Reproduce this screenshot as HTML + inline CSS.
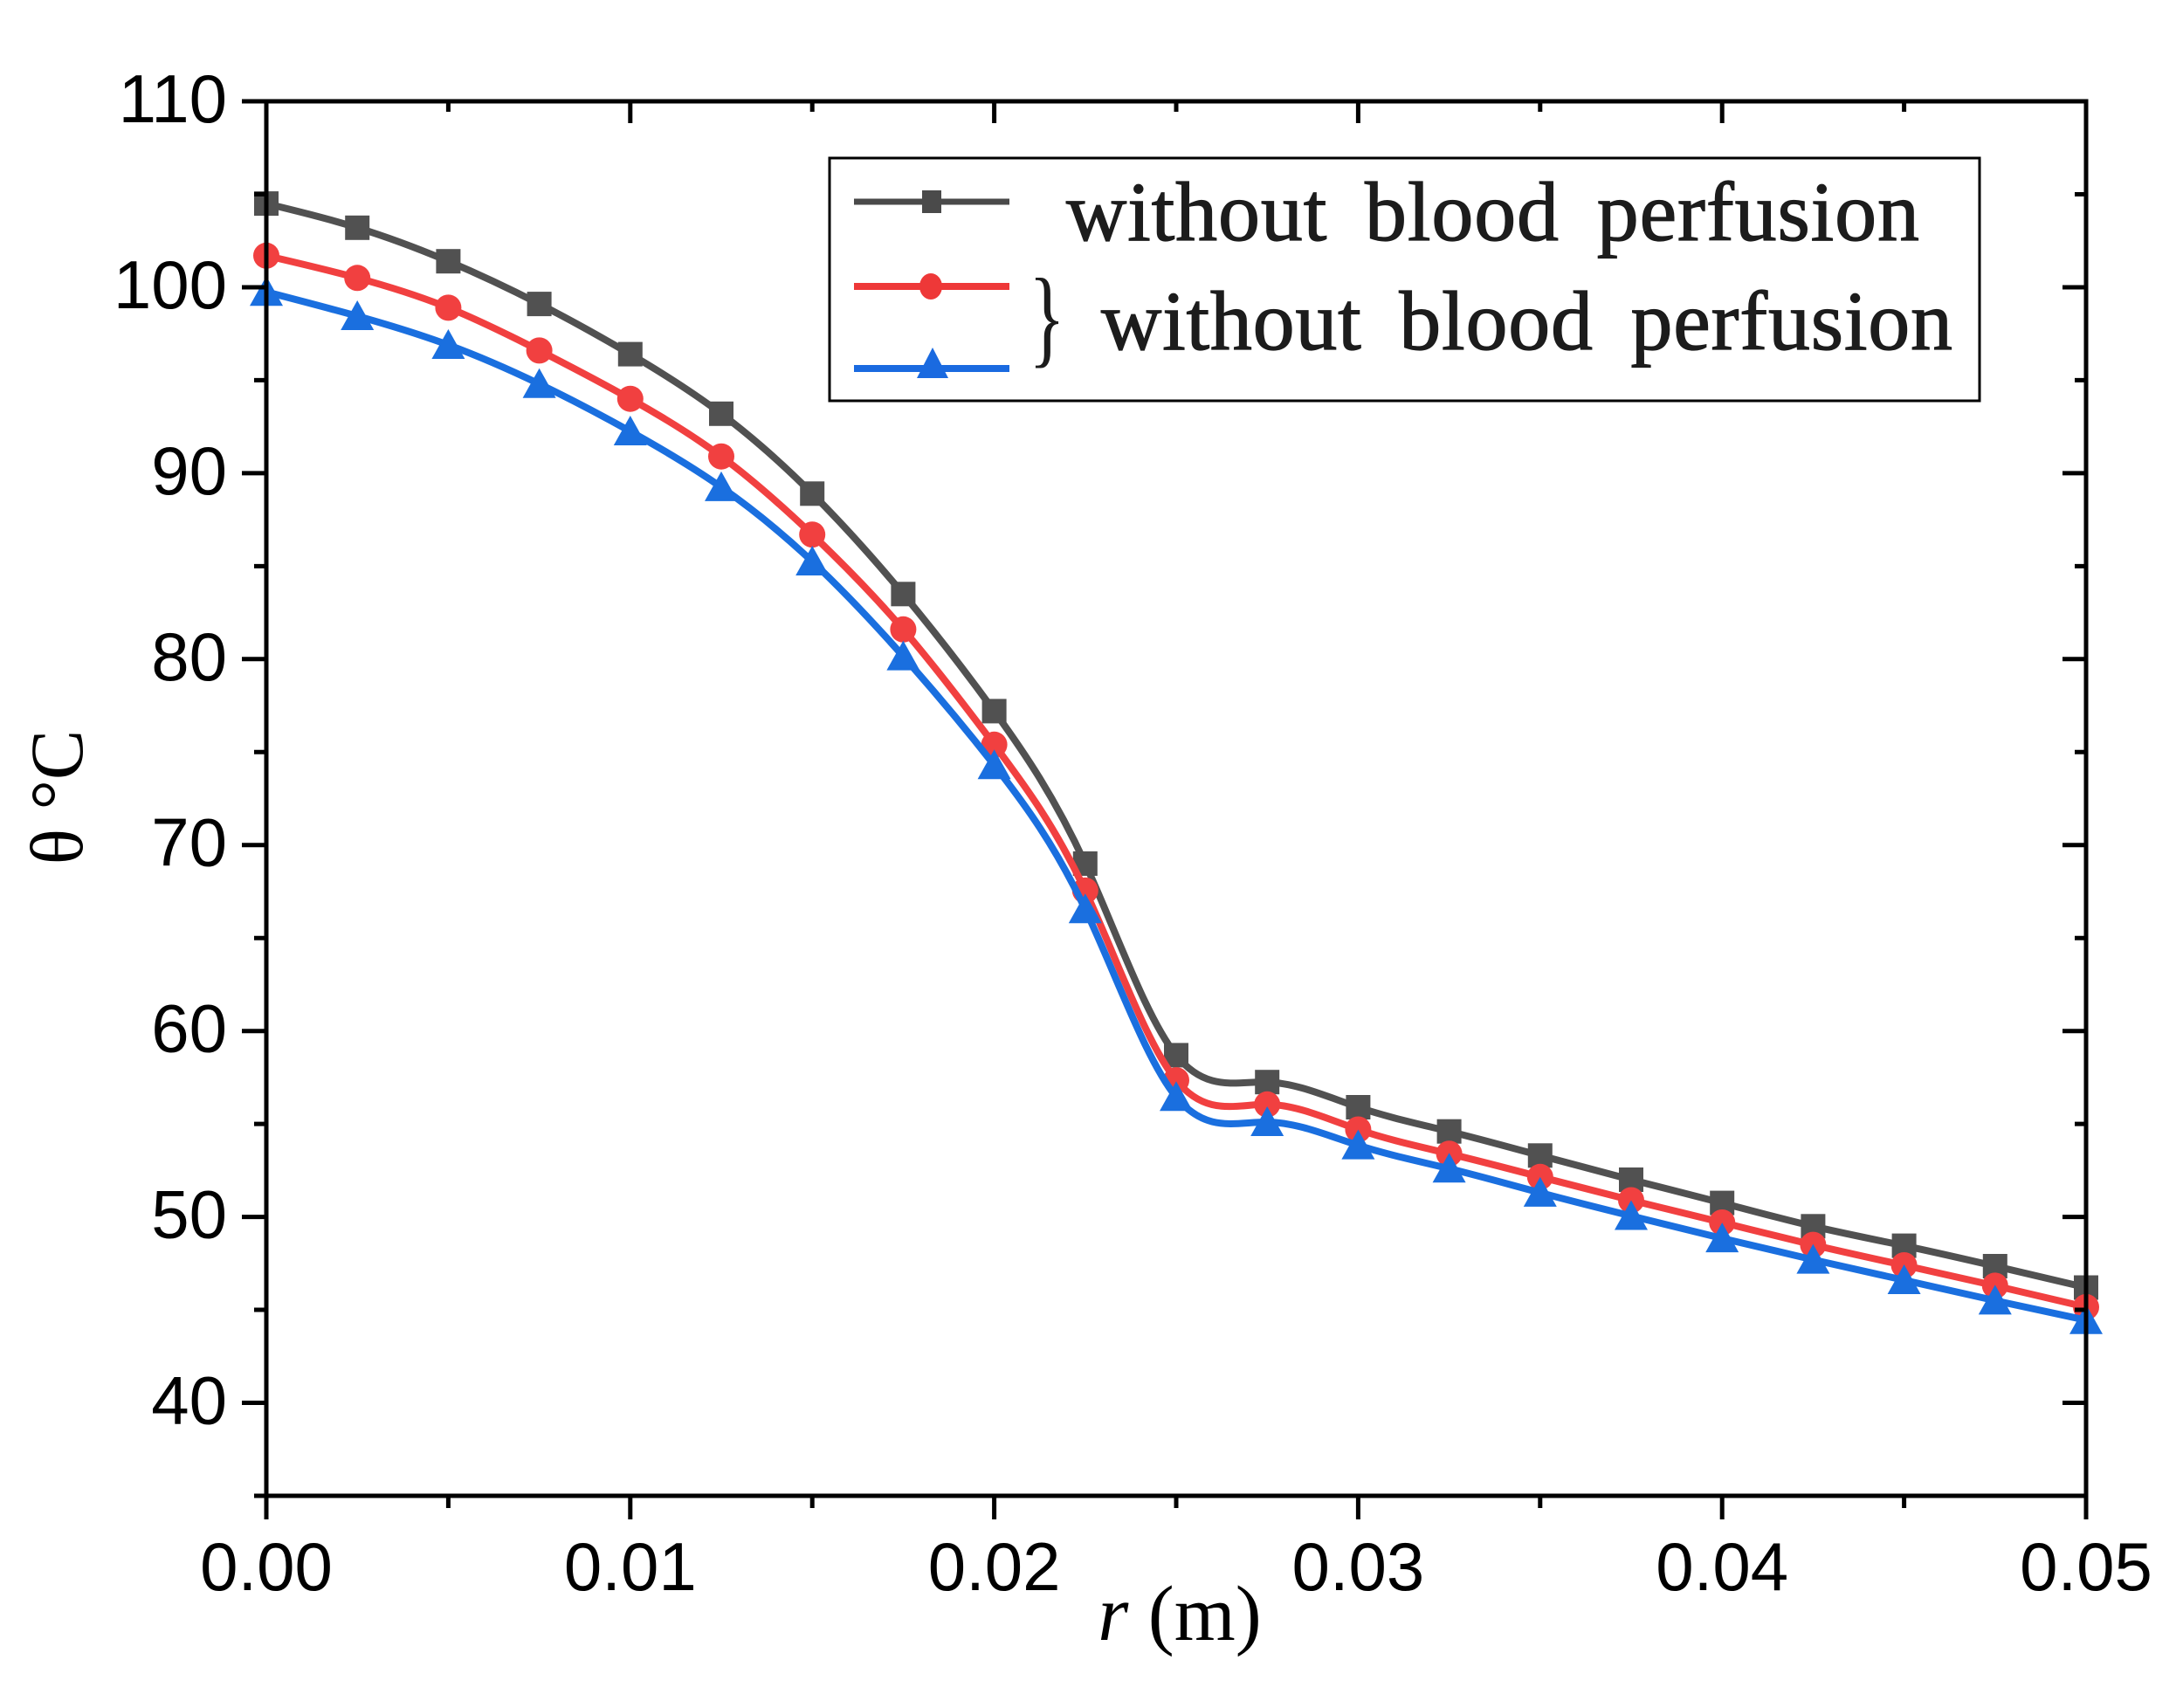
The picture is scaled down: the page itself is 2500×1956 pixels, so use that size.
<!DOCTYPE html>
<html>
<head>
<meta charset="utf-8">
<style>
html,body{margin:0;padding:0;background:#fff}
svg{display:block}
</style>
</head>
<body>
<svg id="chart" width="2500" height="1956" viewBox="0 0 2500 1956" xmlns="http://www.w3.org/2000/svg">
<rect x="0" y="0" width="2500" height="1956" fill="#fff"/>
<g id="series"></g>
<rect x="305" y="116" width="2084" height="1597" fill="none" stroke="#000" stroke-width="5"/>
<g stroke="#000" stroke-width="5" fill="none">
<path d="M277 1606.5h28M277 1393.6h28M277 1180.7h28M277 967.7h28M277 754.8h28M277 541.9h28M277 329h28M277 116h28"/>
<path d="M291 1713h14M291 1500h14M291 1287.1h14M291 1074.2h14M291 861.3h14M291 648.4h14M291 435.4h14M291 222.5h14"/>
<path d="M2362 1606.5h27M2362 1393.6h27M2362 1180.7h27M2362 967.7h27M2362 754.8h27M2362 541.9h27M2362 329h27"/>
<path d="M2376 1500h13M2376 1287.1h13M2376 1074.2h13M2376 861.3h13M2376 648.4h13M2376 435.4h13M2376 222.5h13"/>
<path d="M305 1713v27M721.8 1713v27M1138.6 1713v27M1555.4 1713v27M1972.2 1713v27M2389 1713v27"/>
<path d="M513.4 1713v14M930.2 1713v14M1347 1713v14M1763.8 1713v14M2180.6 1713v14"/>
<path d="M721.8 116v25M1138.6 116v25M1555.4 116v25M1972.2 116v25"/>
<path d="M513.4 116v12M930.2 116v12M1347 116v12M1763.8 116v12M2180.6 116v12"/>
</g>
<g font-family="'Liberation Sans', Arial, sans-serif" font-size="78" fill="#000" text-anchor="end">
<text x="260" y="1630.5">40</text>
<text x="260" y="1417.6">50</text>
<text x="260" y="1204.7">60</text>
<text x="260" y="991.7">70</text>
<text x="260" y="778.8">80</text>
<text x="260" y="565.9">90</text>
<text x="260" y="353">100</text>
<text x="260" y="140">110</text>
</g>
<g font-family="'Liberation Sans', Arial, sans-serif" font-size="78" fill="#000" text-anchor="middle">
<text x="305" y="1821">0.00</text>
<text x="721.8" y="1821">0.01</text>
<text x="1138.6" y="1821">0.02</text>
<text x="1555.4" y="1821">0.03</text>
<text x="1972.2" y="1821">0.04</text>
<text x="2389" y="1821">0.05</text>
</g>
<text x="1351" y="1878" font-family="'Liberation Serif', 'Times New Roman', serif" font-size="90" fill="#000" text-anchor="middle"><tspan font-style="italic">r</tspan> (m)</text>
<text transform="translate(94,913) rotate(-90)" font-family="'Liberation Serif', 'Times New Roman', serif" font-size="86" fill="#000" text-anchor="middle">θ °C</text>
<rect x="950" y="181" width="1317" height="278" fill="#fff" stroke="#000" stroke-width="3"/>
<path d="M978 231H1156" stroke="#4a4a4a" stroke-width="7"/>
<rect x="1056" y="218" width="22" height="26" fill="#4a4a4a"/>
<path d="M978 328H1156" stroke="#EE3838" stroke-width="8"/>
<ellipse cx="1066" cy="328" rx="13" ry="15" fill="#EE3838"/>
<path d="M978 422H1156" stroke="#1A6AE0" stroke-width="8"/>
<polygon points="1068,398 1086,433 1050,433" fill="#1A6AE0"/>
<g font-family="'Liberation Serif', 'Times New Roman', serif" font-size="96" fill="#1c1c1c" stroke="#1c1c1c" stroke-width="1.2">
<text x="1221" y="275" textLength="977" lengthAdjust="spacing" word-spacing="18">without blood perfusion</text>
<text x="1261" y="400" textLength="975" lengthAdjust="spacing" word-spacing="18">without blood perfusion</text>
</g>
<text transform="translate(1178,405) scale(0.7,1)" font-family="'Liberation Serif', 'Times New Roman', serif" font-size="125" fill="#1c1c1c">}</text>
</svg>
<script>
(function(){
var NS="http://www.w3.org/2000/svg";
var g=document.getElementById("series");
var h=104.2,X=[];
for(var k=0;k<21;k++)X.push(305+k*h);
var data=[
{c:"#515151",m:"sq",y:[233.1,260.8,299.2,348.1,405.6,473.8,565.3,680.3,814.4,989,1208.4,1239.2,1268,1295.7,1323.3,1351,1377.6,1404.3,1426.6,1450,1474.5]},
{c:"#F14040",m:"ci",y:[292.8,318.3,352.4,401.4,456.7,522.7,612.2,720.8,852.8,1019.9,1237.1,1264.8,1293.5,1321.2,1347.8,1374.5,1400,1425.6,1449,1472.4,1496.9]},
{c:"#1A6FDF",m:"tr",y:[334.3,362,395,439.7,494,557.9,643,751.6,876.2,1041.2,1256.3,1285,1311.6,1338.3,1365.9,1392.5,1418.1,1442.6,1466,1489.4,1511.8]}
];
function sp(Y){
var n=Y.length,M=[],cp=[],dp=[],i;
for(i=0;i<n;i++)M[i]=0;
for(i=1;i<n-1;i++){
var d=6*(Y[i+1]-2*Y[i]+Y[i-1])/(h*h);
if(i===1){cp[i]=0.25;dp[i]=d/4;}else{var m=4-cp[i-1];cp[i]=1/m;dp[i]=(d-dp[i-1])/m;}
}
for(i=n-2;i>=1;i--)M[i]=dp[i]-cp[i]*M[i+1];
var s="M"+X[0]+","+Y[0];
for(i=0;i<n-1;i++){
var sl=(Y[i+1]-Y[i])/h;
var d0=sl-h*(2*M[i]+M[i+1])/6;
var d1=sl+h*(M[i]+2*M[i+1])/6;
s+=" C"+(X[i]+h/3).toFixed(2)+","+(Y[i]+d0*h/3).toFixed(2)+" "+(X[i+1]-h/3).toFixed(2)+","+(Y[i+1]-d1*h/3).toFixed(2)+" "+X[i+1].toFixed(2)+","+Y[i+1];
}
return s;
}
function el(t,a){var e=document.createElementNS(NS,t);for(var q in a)e.setAttribute(q,a[q]);g.appendChild(e);return e;}
data.forEach(function(S){
el("path",{d:sp(S.y),fill:"none",stroke:S.c,"stroke-width":8,"stroke-linejoin":"round"});
for(var i=0;i<S.y.length;i++){
var x=X[i],y=S.y[i];
if(S.m==="sq")el("rect",{x:x-14,y:y-14,width:28,height:28,fill:S.c});
else if(S.m==="ci")el("circle",{cx:x,cy:y,r:15,fill:S.c});
else el("polygon",{points:x+","+(y-18)+" "+(x+19)+","+(y+16)+" "+(x-19)+","+(y+16),fill:S.c});
}
});
})();
</script>
</body>
</html>
